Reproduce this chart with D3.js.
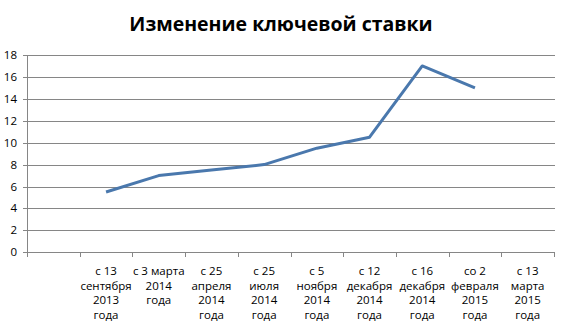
<!DOCTYPE html>
<html>
<head>
<meta charset="utf-8">
<script src="https://cdn.jsdelivr.net/npm/d3@7"></script>
<style>
  body { margin: 0; background: #fff; }
  svg { display: block; font-family: "Open Sans", sans-serif; }
</style>
</head>
<body>
<div id="grafico"></div>
<script>
// категории оси X (первая пустая)
var categorias = [
  [""],
  ["с 13", "сентября", "2013", "года"],
  ["с 3 марта", "2014", "года"],
  ["с 25", "апреля", "2014", "года"],
  ["с 25", "июля", "2014", "года"],
  ["с 5", "ноября", "2014", "года"],
  ["с 12", "декабря", "2014", "года"],
  ["с 16", "декабря", "2014", "года"],
  ["со 2", "февраля", "2015", "года"],
  ["с 13", "марта", "2015", "года"]
];
// ставка, null = нет значения
var stavki = [null, 5.5, 7, 7.5, 8, 9.5, 10.5, 17, 15, null];
var yTicks = [0, 2, 4, 6, 8, 10, 12, 14, 16, 18];
var titulo = "Изменение ключевой ставки";

var width = 568,
    height = 331,
    plotLeft = 27, plotRight = 554,
    plotTop = 55, plotBottom = 252.3;

var svg = d3.select("#grafico").append("svg")
    .attr("width", width)
    .attr("height", height);

var x = d3.scaleBand()
    .domain(d3.range(categorias.length))
    .range([plotLeft, plotRight]);

var y = d3.scaleLinear()
    .domain([0, 18])
    .range([plotBottom, plotTop]);

svg.append("text")
    .attr("x", 281)
    .attr("y", 31)
    .attr("text-anchor", "middle")
    .attr("font-size", "19.5px")
    .attr("font-weight", "bold")
    .attr("fill", "#000")
    .text(titulo);

// линии сетки
svg.append("g")
    .selectAll("line")
    .data(yTicks)
    .enter().append("line")
    .attr("x1", plotLeft - 4)
    .attr("x2", plotRight + 1)
    .attr("y1", function(d) { return Math.round(y(d)) + 0.5; })
    .attr("y2", function(d) { return Math.round(y(d)) + 0.5; })
    .attr("stroke", "#868686")
    .attr("stroke-width", 1);

// ось Y
svg.append("line")
    .attr("x1", plotLeft + 0.5).attr("x2", plotLeft + 0.5)
    .attr("y1", Math.round(y(18)) + 0.5)
    .attr("y2", Math.round(y(0)) + 0.5)
    .attr("stroke", "#868686");

svg.append("g")
    .selectAll("text")
    .data(yTicks)
    .enter().append("text")
    .attr("x", 17)
    .attr("y", function(d) { return y(d); })
    .attr("dy", "0.35em")
    .attr("text-anchor", "end")
    .attr("font-size", "11.5px")
    .attr("fill", "#000")
    .text(function(d) { return d; });

// риски оси X
var bordas = d3.range(categorias.length + 1).map(function(i) {
  return i < categorias.length ? x(i) : x(i - 1) + x.bandwidth();
});
svg.append("g")
    .selectAll("line")
    .data(bordas)
    .enter().append("line")
    .attr("x1", function(d) { return Math.round(d) + 0.5; })
    .attr("x2", function(d) { return Math.round(d) + 0.5; })
    .attr("y1", Math.round(y(0)) + 0.5)
    .attr("y2", Math.round(y(0)) + 5)
    .attr("stroke", "#868686");

// подписи категорий
var rotulos = svg.append("g")
    .selectAll("text")
    .data(categorias)
    .enter().append("text")
    .attr("text-anchor", "middle")
    .attr("font-size", "11.5px")
    .attr("fill", "#000")
    .attr("x", function(d, i) { return x(i) + x.bandwidth() / 2; })
    .attr("y", 275);

rotulos.selectAll("tspan")
    .data(function(d, i) { return d.map(function(t) { return {t: t, i: i}; }); })
    .enter().append("tspan")
    .attr("x", function(d) { return x(d.i) + x.bandwidth() / 2; })
    .attr("dy", function(d, j) { return j == 0 ? 0 : 14.7; })
    .text(function(d) { return d.t; });

var linha = d3.line()
    .defined(function(d) { return d != null; })
    .x(function(d, i) { return x(i) + x.bandwidth() / 2; })
    .y(function(d) { return y(d); });

svg.append("path")
    .attr("d", linha(stavki))
    .attr("fill", "none")
    .attr("stroke", "#4a78ad")
    .attr("stroke-width", 3)
    .attr("stroke-linejoin", "round");
</script>
</body>
</html>
